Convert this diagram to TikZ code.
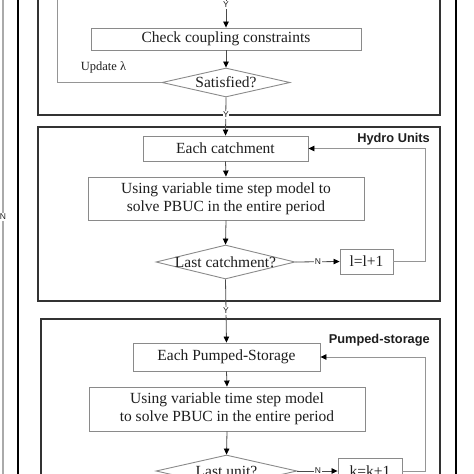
\documentclass[tikz,border=0pt]{standalone}
\usepackage{fontspec}
\setmainfont{Liberation Serif}
\setsansfont{Liberation Sans}
\usetikzlibrary{arrows.meta,shapes.geometric}
\definecolor{boxgray}{HTML}{8A8A8A}
\definecolor{conngray}{HTML}{4A4A4A}
\definecolor{loopgray}{HTML}{959595}
\definecolor{contgray}{HTML}{333333}
\definecolor{txt}{HTML}{1E1E1E}
\begin{document}
\begin{tikzpicture}[x=1pt,y=-1pt,
  procbox/.style={draw=boxgray, line width=0.9pt, inner sep=0pt, align=center,
    text=txt, font=\fontsize{15.5}{18}\selectfont},
  decision/.style={draw=boxgray, line width=0.9pt, diamond, inner sep=0pt},
  dtext/.style={text=txt, font=\fontsize{15.5}{18}\selectfont, inner sep=0pt},
  conn/.style={draw=conngray, line width=0.8pt, -{Triangle[length=6pt,width=5.5pt,color=black]}},
  loopconn/.style={draw=loopgray, line width=0.8pt, -{Triangle[length=6pt,width=5.5pt,color=black]}},
  loopline/.style={draw=loopgray, line width=0.8pt},
  yn/.style={fill=white, inner sep=0.6pt, text=txt, font=\sffamily\fontsize{8.5}{9}\selectfont},
  container/.style={draw=contgray, line width=1.3pt},
  title/.style={inner sep=0pt, text=txt, font=\sffamily\bfseries\fontsize{12.8}{14}\selectfont}
]
\useasboundingbox (0,0) rectangle (474,474);
\clip (0,0) rectangle (474,474);

% outer frames
\draw[draw=black, line width=1.4pt] (18,-20) rectangle (456,500);
\coordinate (ntop) at (3,-20);
\coordinate (nbot) at (3,500);
\draw[draw=loopgray!80, line width=1.5pt] (ntop) -- (nbot);

% containers
\draw[container] (38,-20) rectangle (440,115);
\draw[container] (38,127) rectangle (440,301);
\draw[container] (41,319) rectangle (440,500);

\node[title, anchor=base east] (hydrot) at (430,142.5) {Hydro Units};
\node[title, anchor=base east] (pumpt) at (430,343.5) {Pumped-storage};

% top block
\coordinate (tin) at (226,-5);
\node[procbox, minimum width=270, minimum height=22] (check) at (226,39) {Check coupling constraints};
\node[decision, minimum width=128, minimum height=29] (sat) at (226,82.5) {};
\node[dtext] (satt) at (sat.center) {Satisfied?};
\node[text=txt, inner sep=0pt, font=\fontsize{12.5}{14}\selectfont] (upd) at (103.5,67) {Update~λ};
\coordinate (uptop) at (57,-20);

% hydro block
\node[procbox, minimum width=165, minimum height=25] (ec) at (225.5,148.5) {Each catchment};
\node[procbox, minimum width=276, minimum height=43] (hs) at (226,198.5) {Using variable time step model to\\solve PBUC in the entire period};
\node[decision, minimum width=139, minimum height=34] (lc) at (225.5,262) {};
\node[dtext] (lct) at (lc.center) {Last catchment?};
\node[procbox, minimum width=53, minimum height=25] (ll) at (366.5,261.5) {l=l+1};

% pumped-storage block
\node[procbox, minimum width=187, minimum height=28] (eps) at (226.5,357) {Each Pumped-Storage};
\node[procbox, minimum width=276, minimum height=44] (pss) at (227,409) {Using variable time step model\\to solve PBUC in the entire period};
\node[decision, minimum width=141, minimum height=32] (lu) at (226.5,471) {};
\node[dtext] (lut) at (lu.center) {Last unit?};
\node[procbox, minimum width=64, minimum height=26] (kk) at (370,471) {k=k+1};

% connectors
\draw[conn] (tin) -- (check.north);
\draw[conn] (check.south) -- (sat.north);
\draw[loopline] (sat.west) -| (uptop);
\draw[conn] (sat.south) -- (ec.north);
\draw[conn] (ec.south) -- (hs.north);
\draw[conn] (hs.south) -- (lc.north);
\draw[conn] (lc.east) -- (ll.west);
\draw[loopconn] (ll.east) -- (425,261.5) |- (ec.east);
\draw[conn] (lc.south) -- (eps.north);
\draw[conn] (eps.south) -- (pss.north);
\draw[conn] (pss.south) -- (lu.north);
\draw[conn] (lu.east) -- (kk.west);
\draw[loopconn] (kk.east) -- (425,471) |- (eps.east);

% Y / N labels
\node[yn] (y0) at (226,5) {Y};
\node[yn] (y1) at (226,115) {Y};
\node[yn] (y2) at (226,311) {Y};
\node[yn] (n1) at (318,262) {N};
\node[yn] (n2) at (318,471) {N};
\node[yn] (n0) at (3,217) {N};
\end{tikzpicture}
\end{document}
